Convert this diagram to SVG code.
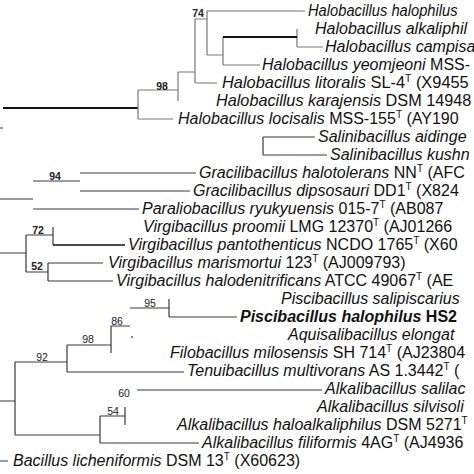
<svg xmlns="http://www.w3.org/2000/svg" width="474" height="474" viewBox="0 0 474 474">
<style>
.bg{fill:#fff}
.l{fill:none;stroke:#3a3a3a;stroke-width:1.2}
.g{fill:none;stroke:#777;stroke-width:1.2}
.k{fill:none;stroke:#111;stroke-width:2}
.t{font-family:"Liberation Sans",Arial,sans-serif;font-size:16px;fill:#111}
.i{font-style:italic}
.b{font-weight:bold}
.s{font-size:10px}
.n{font-family:"Liberation Sans",Arial,sans-serif;font-size:10.5px;fill:#222;text-anchor:middle}
</style>
<rect class="bg" width="474" height="474"/>
<g id="connectors">
<path class="k" d="M3,108H138"/>
<path class="g" d="M138,90V119M138,119H173M138,90H178M178,72V101M178,72H195M195,19V83M195,83H217M195,19H207M207,11V55M207,11H305M207,55H223M223,37V65M223,65H260M297,29V47M297,47H323"/>
<path class="k" d="M223,37H297"/>
<path class="l" d="M0,128H3M263,137V155M263,137H315M263,155H327"/>
<path class="l" d="M0,199H33M33,181H80M80,173H196M80,191H190M33,209H139"/>
<path class="l" d="M0,253H26M26,235V272M26,235H53M53,227V245M26,272H48M48,263V281M48,263H103M48,281H113"/>
<path class="k" d="M53,245H125" style="stroke-width:1.6"/>
<path class="l" d="M130,308H169M169,299V317M169,317H237M111,326H130M111,326V353M67,345H111M67,345V372M67,372H184M15,362H67M15,362V435M0,401H15M15,435H100M100,416V443M100,416H125M125,407V425M137,390H322M100,443H199M0,461H8M132,336V338"/>
</g>
<g id="bootstrap">
<text class="n b" x="198" y="17">74</text>
<text class="n b" x="162" y="90">98</text>
<text class="n b" x="55" y="180">94</text>
<text class="n b" x="38" y="234">72</text>
<text class="n b" x="37" y="270">52</text>
<text class="n" x="150" y="307">95</text>
<text class="n" x="117" y="325">86</text>
<text class="n" x="88" y="343">98</text>
<text class="n" x="42" y="361">92</text>
<text class="n" x="124" y="397">60</text>
<text class="n" x="113" y="415">54</text>
</g>
<g id="n1"><text class="t i" transform="translate(308,16) scale(0.92,1)">Halobacillus halophilus</text></g>
<g id="n2"><text class="t i" x="315" y="34">Halobacillus alkaliphil</text></g>
<g id="n3"><text class="t i" x="325" y="52">Halobacillus campisa</text></g>
<g id="n4"><text class="t" x="262" y="70"><tspan class="i">Halobacillus yeomjeoni</tspan> MSS-</text></g>
<g id="n5"><text class="t" transform="translate(222,88) scale(1.025,1)"><tspan class="i">Halobacillus litoralis</tspan> SL-4<tspan class="s" dy="-6">T</tspan><tspan dy="6"> (X9455</tspan></text></g>
<g id="n6"><text class="t" transform="translate(216,106) scale(1.015,1)"><tspan class="i">Halobacillus karajensis</tspan> DSM 14948</text></g>
<g id="n7"><text class="t" x="178" y="124"><tspan class="i">Halobacillus locisalis</tspan> MSS-155<tspan class="s" dy="-6">T</tspan><tspan dy="6"> (AY190</tspan></text></g>
<g id="n8"><text class="t" x="318" y="142"><tspan class="i">Salinibacillus aidinge</tspan></text></g>
<g id="n9"><text class="t" x="330" y="160"><tspan class="i">Salinibacillus kushn</tspan></text></g>
<g id="n10"><text class="t" x="199" y="178"><tspan class="i">Gracilibacillus halotolerans</tspan> NN<tspan class="s" dy="-6">T</tspan><tspan dy="6"> (AFC</tspan></text></g>
<g id="n11"><text class="t" x="193" y="196"><tspan class="i">Gracilibacillus dipsosauri</tspan> DD1<tspan class="s" dy="-6">T</tspan><tspan dy="6"> (X824</tspan></text></g>
<g id="n12"><text class="t" x="142" y="214"><tspan class="i">Paraliobacillus ryukyuensis</tspan> 015-7<tspan class="s" dy="-6">T</tspan><tspan dy="6"> (AB087</tspan></text></g>
<g id="n13"><text class="t" x="143" y="232"><tspan class="i">Virgibacillus proomii</tspan> LMG 12370<tspan class="s" dy="-6">T</tspan><tspan dy="6"> (AJ01266</tspan></text></g>
<g id="n14"><text class="t" x="128" y="250"><tspan class="i">Virgibacillus pantothenticus</tspan> NCDO 1765<tspan class="s" dy="-6">T</tspan><tspan dy="6"> (X60</tspan></text></g>
<g id="n15"><text class="t" x="108" y="268"><tspan class="i">Virgibacillus marismortui</tspan> 123<tspan class="s" dy="-6">T</tspan><tspan dy="6"> (AJ009793)</tspan></text></g>
<g id="n16"><text class="t" x="116" y="286"><tspan class="i">Virgibacillus halodenitrificans</tspan> ATCC 49067<tspan class="s" dy="-6">T</tspan><tspan dy="6"> (AE</tspan></text></g>
<g id="n17"><text class="t" x="281" y="304"><tspan class="i">Piscibacillus salipiscarius</tspan></text></g>
<g id="n18"><text class="t b" x="240" y="322"><tspan class="i">Piscibacillus halophilus</tspan> HS2</text></g>
<g id="n19"><text class="t" x="288" y="340"><tspan class="i">Aquisalibacillus elongat</tspan></text></g>
<g id="n20"><text class="t" x="170" y="358"><tspan class="i">Filobacillus milosensis</tspan> SH 714<tspan class="s" dy="-6">T</tspan><tspan dy="6"> (AJ23804</tspan></text></g>
<g id="n21"><text class="t" x="187" y="376"><tspan class="i">Tenuibacillus multivorans</tspan> AS 1.3442<tspan class="s" dy="-6">T</tspan><tspan dy="6"> (</tspan></text></g>
<g id="n22"><text class="t" x="325" y="394"><tspan class="i">Alkalibacillus salilac</tspan></text></g>
<g id="n23"><text class="t" x="317" y="412"><tspan class="i">Alkalibacillus silvisoli</tspan></text></g>
<g id="n24"><text class="t" x="177" y="430"><tspan class="i">Alkalibacillus haloalkaliphilus</tspan> DSM 5271<tspan class="s" dy="-6">T</tspan></text></g>
<g id="n25"><text class="t" x="202" y="448"><tspan class="i">Alkalibacillus filiformis</tspan> 4AG<tspan class="s" dy="-6">T</tspan><tspan dy="6"> (AJ4936</tspan></text></g>
<g id="n26"><text class="t" x="13" y="466"><tspan class="i">Bacillus licheniformis</tspan> DSM 13<tspan class="s" dy="-6">T</tspan><tspan dy="6"> (X60623)</tspan></text></g>
</svg>
